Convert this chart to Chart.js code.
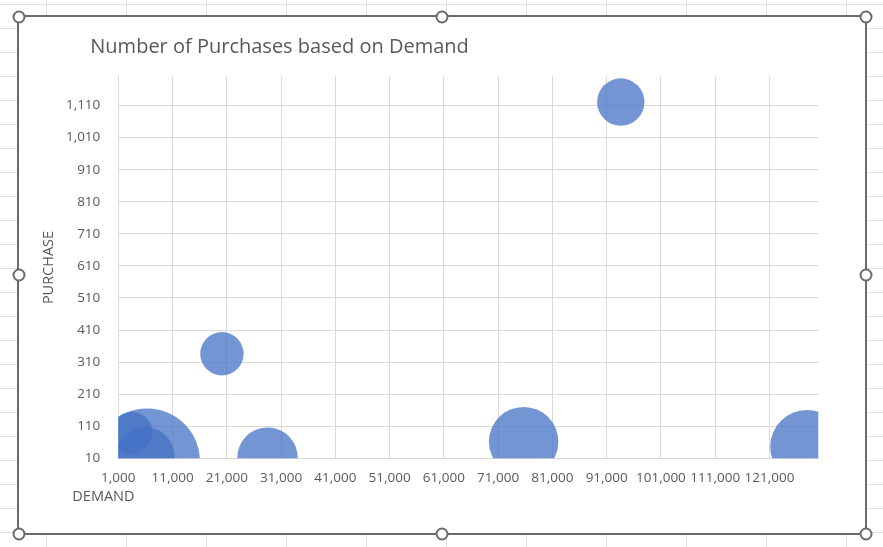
<!DOCTYPE html>
<html lang="en">
<head>
    <meta charset="UTF-8" />
    <title>Number of Purchases based on Demand</title>
    <script src="https://cdn.jsdelivr.net/npm/chart.js@4"></script>
    <style>
        body {
            margin: 0;
            width: 883px;
            height: 547px;
            overflow: hidden;
            background-color: #fff;
            background-image:
                linear-gradient(#e1e1e1 1px, transparent 1px),
                linear-gradient(90deg, #e1e1e1 1px, transparent 1px);
            background-size: 80px 24px;
            background-position: 46px 4px;
        }
        .frame {
            position: absolute;
            left: 17px; top: 15px;
            width: 850px; height: 520px;
            box-sizing: border-box;
            border: 2px solid #6a6a6a;
            background: #fff;
        }
        #bubbleChart { position: absolute; left: 0; top: 0; }
        .handle {
            position: absolute;
            width: 13px; height: 13px;
            box-sizing: border-box;
            border: 2px solid #6a6a6a;
            border-radius: 50%;
            background: #fff;
            transform: translate(-50%, -50%);
        }
    </style>
</head>
<body>
    <div class="frame">
        <canvas id="bubbleChart" width="846" height="516"></canvas>
    </div>
    <div class="handle" style="left:19px;top:17px"></div>
    <div class="handle" style="left:442px;top:17px"></div>
    <div class="handle" style="left:866px;top:17px"></div>
    <div class="handle" style="left:19px;top:275px"></div>
    <div class="handle" style="left:866px;top:275px"></div>
    <div class="handle" style="left:19px;top:534px"></div>
    <div class="handle" style="left:442px;top:534px"></div>
    <div class="handle" style="left:866px;top:534px"></div>

    <script>
        // data
        const demand = [93600, 20100, 28500, 6300, 3500, 6000, 75700, 127900];
        const purchase = [1121, 336, 12, 0, 90, 16, 62, 46];
        const bubbleSize = [1000, 838, 1623, 5000, 770, 1507, 2143, 2397];

        const xTicks = [1000, 11000, 21000, 31000, 41000, 51000, 61000, 71000, 81000, 91000, 101000, 111000, 121000];
        const yTicks = [10, 110, 210, 310, 410, 510, 610, 710, 810, 910, 1010, 1110];

        const chartTitle = "Number of Purchases based on Demand";
        const xTitle = "DEMAND";
        const yTitle = "PURCHASE";

        const textColor = "#595959";
        const gridColor = "#d9d9d9";
        const maxRadius = 53;
        const maxSize = Math.max(...bubbleSize);

        const points = demand.map((d, i) => ({
            x: d,
            y: purchase[i],
            r: maxRadius * Math.sqrt(bubbleSize[i] / maxSize)
        }));

        // main title and the x axis title sit where Excel put them, left of the plot
        const excelLabels = {
            id: "excelLabels",
            afterDraw(chart) {
                const ctx = chart.ctx;
                const area = chart.chartArea;
                ctx.save();
                ctx.fillStyle = textColor;
                ctx.textAlign = "left";
                ctx.textBaseline = "alphabetic";
                ctx.font = "20px 'Open Sans'";
                ctx.fillText(chartTitle, area.left - 28, 36.3);
                ctx.font = "14.5px 'Open Sans'";
                ctx.fillText(xTitle, area.left - 46, 484);
                ctx.restore();
            }
        };

        // no extra room for overhanging tick labels
        const noLabelPadding = s => {
            s.paddingLeft = 0;
            s.paddingRight = 0;
            s.paddingTop = 0;
            s.paddingBottom = 0;
        };

        new Chart(document.getElementById("bubbleChart"), {
            type: "bubble",
            data: {
                datasets: [{
                    label: "Purchase",
                    data: points,
                    backgroundColor: "rgba(68, 114, 196, 0.75)",
                    borderWidth: 0,
                    clip: 0
                }]
            },
            options: {
                responsive: false,
                animation: false,
                devicePixelRatio: 1,
                layout: {
                    autoPadding: false,
                    padding: { top: 59.7, right: 46.7, left: 0, bottom: 0 }
                },
                plugins: {
                    legend: { display: false },
                    tooltip: { enabled: false }
                },
                scales: {
                    x: {
                        type: "linear",
                        min: 1000,
                        max: 130000,
                        afterBuildTicks: s => { s.ticks = xTicks.map(v => ({ value: v })); },
                        afterFit: s => { s.height = 74.7; noLabelPadding(s); },
                        grid: { color: gridColor, drawTicks: false },
                        border: { color: gridColor },
                        ticks: {
                            color: textColor,
                            font: { family: "'Open Sans'", size: 13.5 },
                            padding: 12,
                            maxRotation: 0,
                            autoSkip: false,
                            callback: v => v.toLocaleString("en-US")
                        }
                    },
                    y: {
                        type: "linear",
                        min: 10,
                        max: 1200,
                        afterBuildTicks: s => { s.ticks = yTicks.map(v => ({ value: v })); },
                        afterFit: s => { s.width = 99.3; noLabelPadding(s); },
                        grid: { color: gridColor, drawTicks: false },
                        border: { color: gridColor },
                        ticks: {
                            color: textColor,
                            font: { family: "'Open Sans'", size: 13.5 },
                            padding: 18,
                            autoSkip: false,
                            callback: v => v.toLocaleString("en-US")
                        },
                        title: {
                            display: true,
                            text: yTitle,
                            color: textColor,
                            font: { family: "'Open Sans'", size: 14.5 },
                            padding: { top: 20.8, bottom: 0 }
                        }
                    }
                }
            },
            plugins: [excelLabels]
        });
    </script>
</body>
</html>
